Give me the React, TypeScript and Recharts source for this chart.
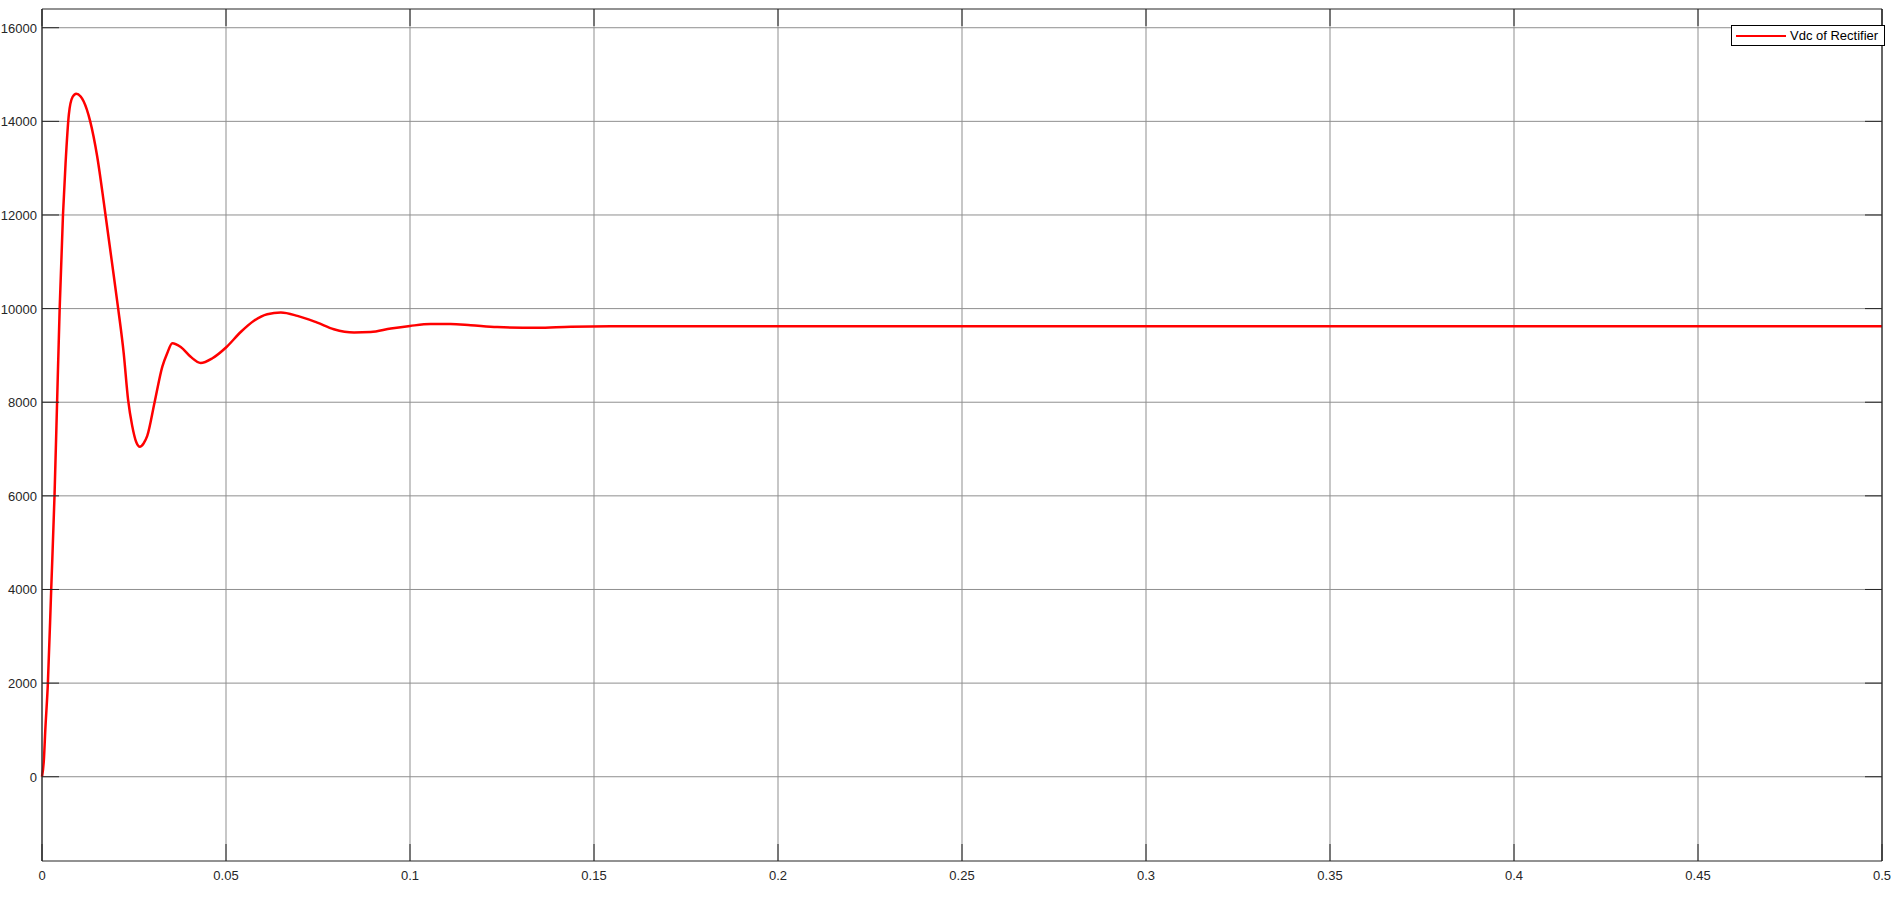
import { LineChart, Line, XAxis, YAxis, CartesianGrid, Legend } from 'recharts';

// simulation time (s) and rectifier dc voltage (V)
const times = [
    0, 0.0005, 0.0009, 0.0016, 0.0025, 0.0034, 0.0041, 0.0048, 0.0057, 0.0064,
    0.0073, 0.0083, 0.0093, 0.0105, 0.0113, 0.0131, 0.015, 0.017, 0.0189, 0.0207,
    0.0222, 0.0234, 0.0245, 0.0256, 0.0266, 0.0276, 0.0286, 0.0306, 0.0327, 0.034,
    0.0354, 0.0377, 0.0404, 0.0431, 0.0463, 0.05, 0.054, 0.0576, 0.0612, 0.0649,
    0.0694, 0.0748, 0.0793, 0.0848, 0.0893, 0.0948, 0.1, 0.1056, 0.111, 0.1165,
    0.1237, 0.1346, 0.1437, 0.1573, 0.2, 0.3, 0.4, 0.5
];
const vdc = [
    0, 350, 1000, 2000, 4000, 6000, 8000, 10000, 12000, 13100,
    14150, 14520, 14590, 14530, 14430, 14000, 13250, 12150, 11050, 10000,
    9050, 8050, 7500, 7150, 7050, 7120, 7280, 8000, 8760, 9040,
    9260, 9180, 8970, 8840, 8940, 9170, 9500, 9740, 9880, 9915,
    9845, 9700, 9560, 9490, 9500, 9575, 9630, 9670, 9670, 9645,
    9605, 9590, 9615, 9625, 9625, 9625, 9625, 9625
];
const xTicks = [0, 0.05, 0.1, 0.15, 0.2, 0.25, 0.3, 0.35, 0.4, 0.45, 0.5];
const xLabels = ['0', '0.05', '0.1', '0.15', '0.2', '0.25', '0.3', '0.35', '0.4', '0.45', '0.5'];
const yTicks = [0, 2000, 4000, 6000, 8000, 10000, 12000, 14000, 16000];

const data = times.map((t, i) => ({ t, v: vdc[i] }));

const FONT = '"Liberation Sans", Arial, Helvetica, sans-serif';
const AXIS = '#262626';
const TICK_LEN = 17;

const BottomTick = (props: any) => {
    const { x, y, index } = props;
    return (
        <g>
            <line x1={x} y1={y} x2={x} y2={y - TICK_LEN} stroke={AXIS} strokeWidth={1} />
            <text x={x} y={y + 19} textAnchor="middle" fontSize={13} fontFamily={FONT} fill={AXIS}>
                {xLabels[index]}
            </text>
        </g>
    );
};

const TopTick = (props: any) => {
    const { x, y } = props;
    return <line x1={x} y1={y} x2={x} y2={y + TICK_LEN} stroke={AXIS} strokeWidth={1} />;
};

const LeftTick = (props: any) => {
    const { x, y, payload } = props;
    return (
        <g>
            <line x1={x} y1={y} x2={x + TICK_LEN} y2={y} stroke={AXIS} strokeWidth={1} />
            <text x={x - 5} y={y + 5} textAnchor="end" fontSize={13} fontFamily={FONT} fill={AXIS}>
                {payload.value}
            </text>
        </g>
    );
};

const RightTick = (props: any) => {
    const { x, y } = props;
    return <line x1={x} y1={y} x2={x - TICK_LEN} y2={y} stroke={AXIS} strokeWidth={1} />;
};

const LegendBox = () => (
    <div
        style={{
            boxSizing: 'border-box',
            width: 154,
            height: 21,
            border: '1px solid #000',
            background: '#fff',
            display: 'flex',
            alignItems: 'center',
            fontFamily: FONT,
            fontSize: 13,
            color: '#000',
            whiteSpace: 'nowrap'
        }}
    >
        <span style={{ display: 'inline-block', width: 50, height: 2, background: '#ff0000', marginLeft: 4 }} />
        <span style={{ marginLeft: 4 }}>Vdc of Rectifier</span>
    </div>
);

export default function App() {
    return (
        <div style={{ position: 'absolute', left: 0, top: 0, background: '#fff' }}>
            <LineChart width={1902} height={906} data={data} margin={{ top: 8, right: 19, bottom: 0, left: 0 }}>
                <CartesianGrid stroke="#8f8f8f" strokeWidth={1} horizontalValues={yTicks} verticalValues={xTicks} />
                <XAxis
                    dataKey="t"
                    type="number"
                    domain={[0, 0.5]}
                    ticks={xTicks}
                    height={45}
                    tickSize={0}
                    tickMargin={0}
                    tickLine={false}
                    axisLine={{ stroke: AXIS, strokeWidth: 1.2 }}
                    tick={<BottomTick />}
                    interval={0}
                />
                <XAxis
                    xAxisId="top"
                    orientation="top"
                    dataKey="t"
                    type="number"
                    domain={[0, 0.5]}
                    ticks={xTicks}
                    height={1}
                    tickSize={0}
                    tickMargin={0}
                    tickLine={false}
                    axisLine={{ stroke: AXIS, strokeWidth: 1.2 }}
                    tick={<TopTick />}
                    interval={0}
                />
                <YAxis
                    type="number"
                    domain={[-1800, 16400]}
                    ticks={yTicks}
                    width={42}
                    tickSize={0}
                    tickMargin={0}
                    tickLine={false}
                    axisLine={{ stroke: AXIS, strokeWidth: 1.2 }}
                    tick={<LeftTick />}
                    interval={0}
                    allowDataOverflow
                />
                <YAxis
                    yAxisId="right"
                    orientation="right"
                    type="number"
                    domain={[-1800, 16400]}
                    ticks={yTicks}
                    width={1}
                    tickSize={0}
                    tickMargin={0}
                    tickLine={false}
                    axisLine={{ stroke: AXIS, strokeWidth: 1.2 }}
                    tick={<RightTick />}
                    interval={0}
                    allowDataOverflow
                />
                <Line
                    type="monotone"
                    dataKey="v"
                    name="Vdc of Rectifier"
                    stroke="#ff0000"
                    strokeWidth={2.5}
                    dot={false}
                    isAnimationActive={false}
                />
                <Legend
                    layout="horizontal"
                    verticalAlign="middle"
                    align="center"
                    wrapperStyle={{ position: 'absolute', top: 25, left: 1731, width: 154, height: 21 }}
                    content={() => <LegendBox />}
                />
            </LineChart>
        </div>
    );
}
